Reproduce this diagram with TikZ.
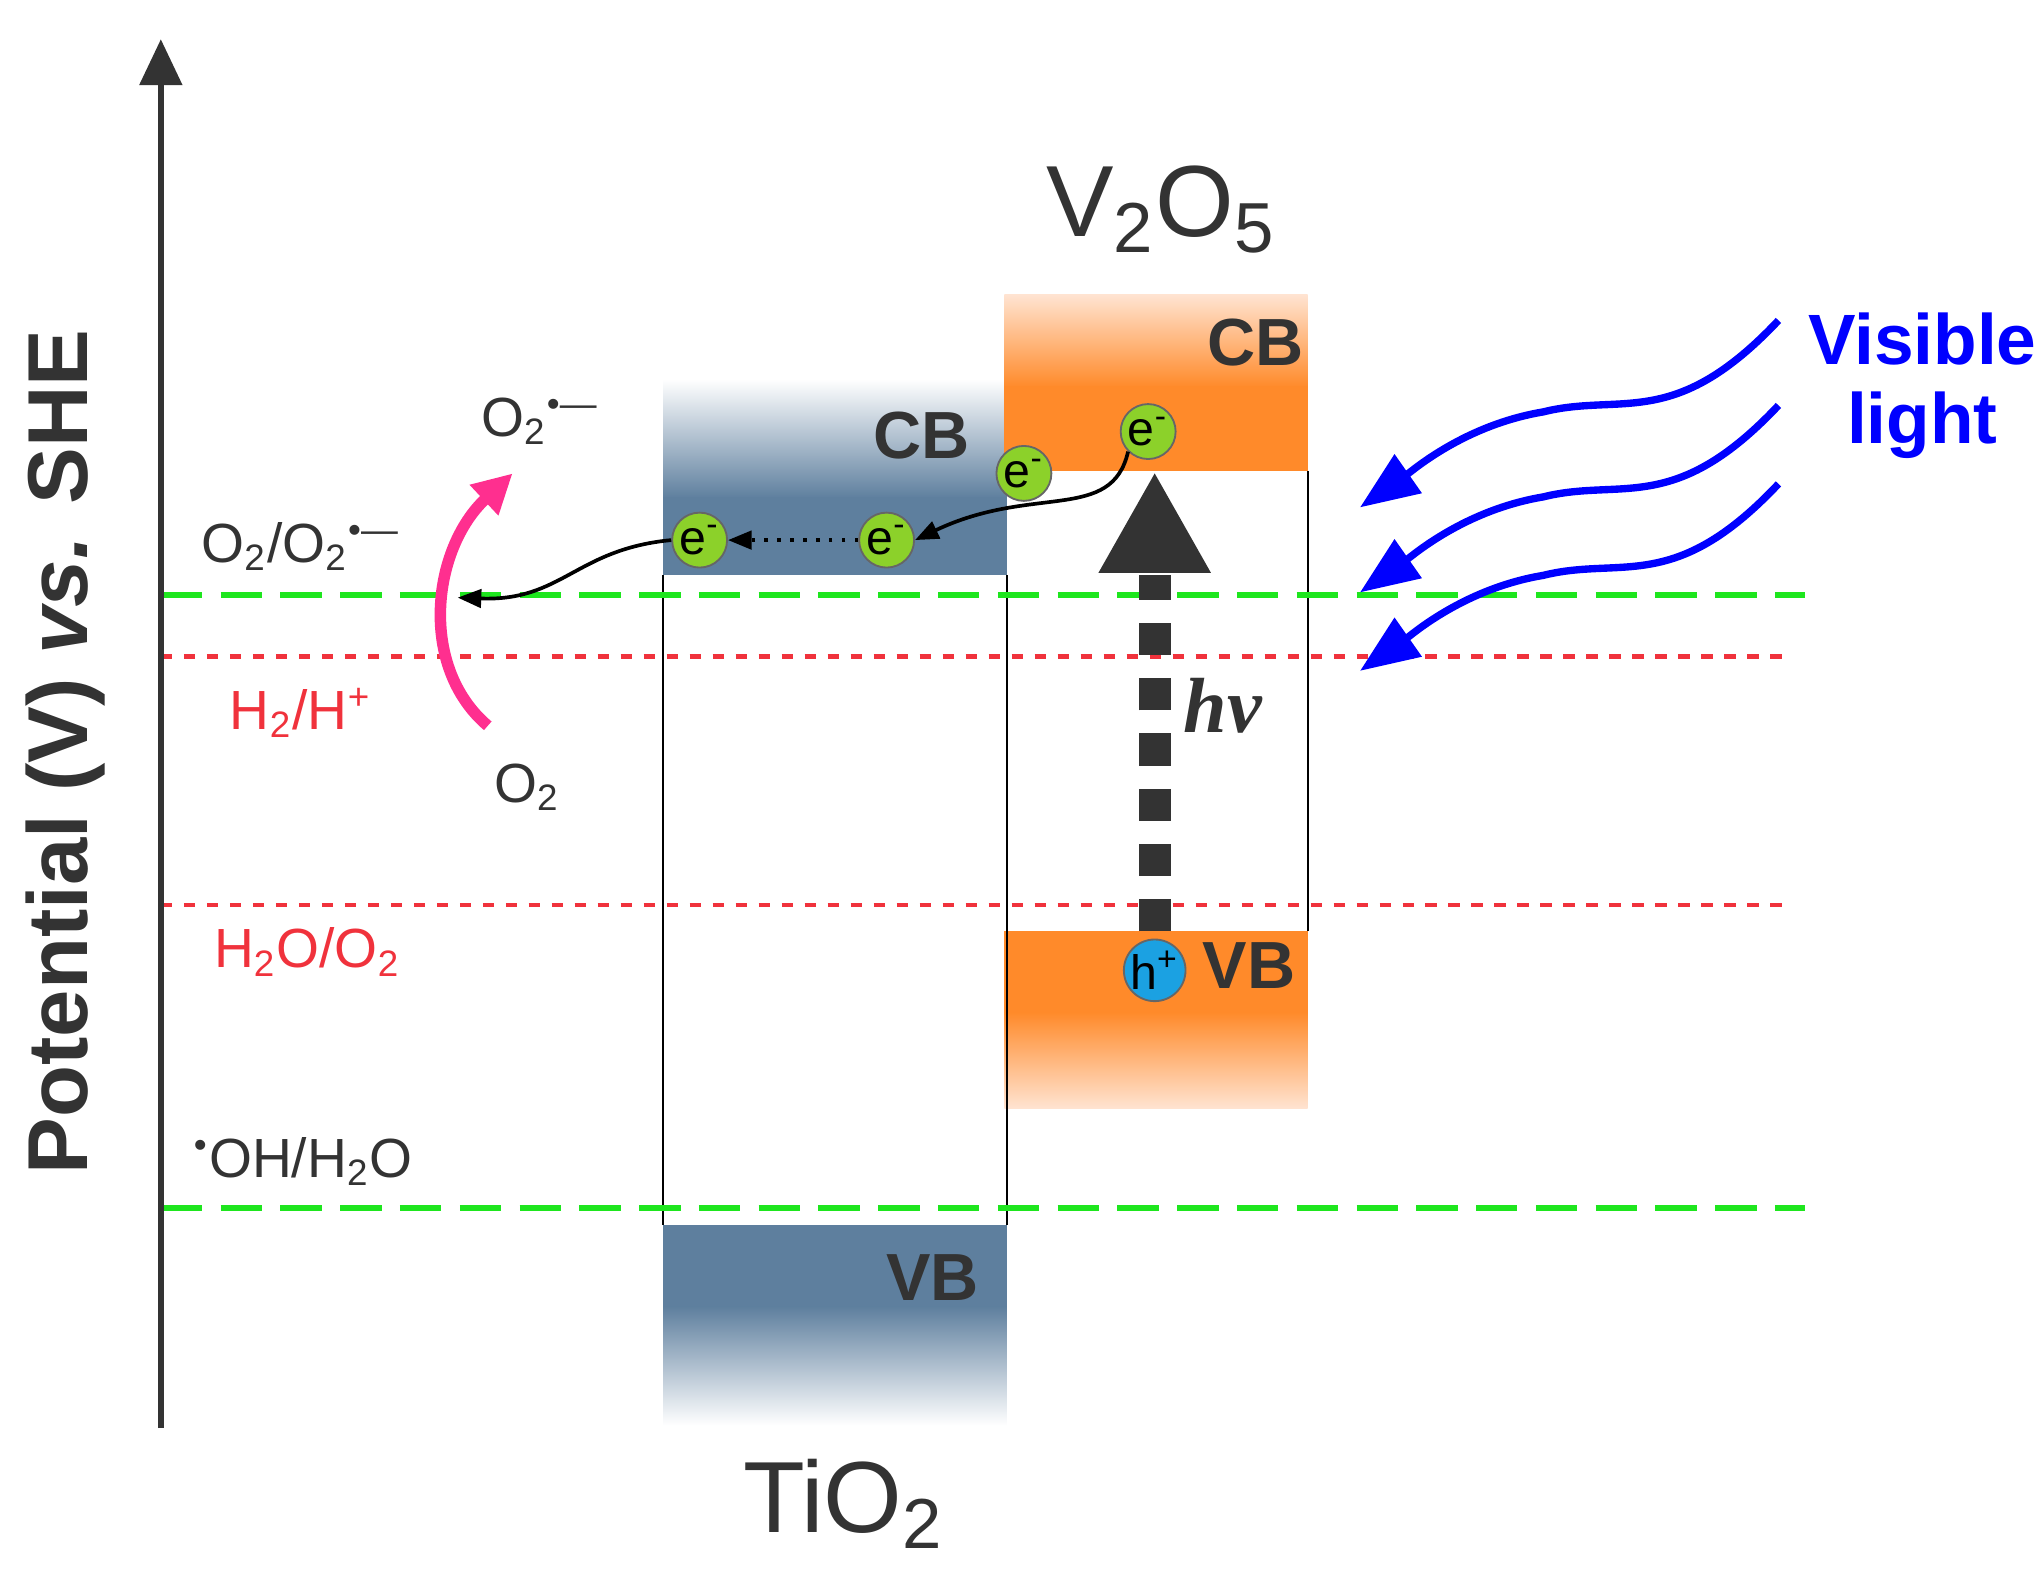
\documentclass[tikz,border=0pt]{standalone}
\usepackage{fontspec}
\setmainfont{Liberation Sans}
\usetikzlibrary{arrows.meta}
\definecolor{tblue}{HTML}{5E7F9E}
\definecolor{vor}{HTML}{FF8A2A}
\definecolor{peach}{HTML}{FFE4D2}
\definecolor{egreen}{HTML}{8CD12A}
\definecolor{hblue}{HTML}{1BA1E2}
\definecolor{dk}{HTML}{333333}
\definecolor{pinkc}{HTML}{FF2F8F}
\definecolor{redc}{RGB}{240,50,60}
\begin{document}
\begin{tikzpicture}[x=0.01cm,y=-0.01cm,
  lab/.style={font=\fontsize{12}{14}\selectfont},
  band/.style={font=\bfseries\fontsize{14.5}{17}\selectfont,text=dk},
  el/.style={circle,draw=black!60,fill=egreen,minimum size=0.42cm,inner sep=0pt,font=\fontsize{10.5}{12}\selectfont},
  green dash/.style={draw={rgb,255:red,30;green,230;blue,30},line width=1.3pt,dash pattern=on 9pt off 4pt},
  red dot/.style={draw=redc,line width=1pt,dash pattern=on 2.5pt off 2.5pt},
  wave/.style={draw=blue,line width=1.6pt,-{Triangle[length=0.45cm,width=0.35cm]}}]
\useasboundingbox (0,0) rectangle (1560,1202);
% bands
\shade[top color=white,bottom color=tblue] (507,290) rectangle (770,381);
\fill[tblue] (507,380) rectangle (770,440);
\fill[tblue] (507,937) rectangle (770,1000);
\shade[top color=tblue,bottom color=white] (507,999) rectangle (770,1090);
\shade[top color=peach,bottom color=vor] (768,225) rectangle (1000,296);
\fill[vor] (768,295) rectangle (1000,360);
\fill[vor] (768,712) rectangle (1000,775);
\shade[top color=vor,bottom color=peach] (768,774) rectangle (1000,848);
\draw[line width=0.4pt] (507,440) -- (507,937) (770,440) -- (770,937);
\draw[line width=0.4pt] (1000,360) -- (1000,712);
% lines
\draw[green dash] (123,455) -- (1380,455);
\draw[green dash] (123,924) -- (1380,924);
\draw[red dot] (123,502) -- (1365,502);
\draw[red dot] (123,692) -- (1365,692);
% axis
\coordinate (a0) at (123,1092); \coordinate (a1) at (123,30);
\draw[line width=1.2pt,dk,-{Triangle[length=0.35cm,width=0.32cm]}] (a0) -- (a1);
\node[rotate=90,font=\bfseries\fontsize{18.5}{22}\selectfont,text=dk] (yl) at (50,575) {Potential (V) \textit{vs.} SHE};
% labels
\node[band] (cbt) at (705,333) {CB};
\node[band] (cbv) at (960,262) {CB};
\node[band] (vbv) at (955,738) {VB};
\node[band] (vbt) at (713,977) {VB};
\node[font=\fontsize{22}{26}\selectfont,text=dk] (v2o5) at (888,160) {V\textsubscript{2}O\textsubscript{5}};
\node[font=\fontsize{22}{26}\selectfont,text=dk] (tio2) at (645,1150) {TiO\textsubscript{2}};
\node[lab,text=dk] (o2r) at (413,322) {O\textsubscript{2}\textsuperscript{•—}};
\node[lab,text=dk] (o2o2) at (230,418) {O\textsubscript{2}/O\textsubscript{2}\textsuperscript{•—}};
\node[lab,text=redc] (hh) at (230,545) {H\textsubscript{2}/H\textsuperscript{+}};
\node[lab,text=dk] (o2) at (403,602) {O\textsubscript{2}};
\node[lab,text=redc] (h2o) at (235,728) {H\textsubscript{2}O/O\textsubscript{2}};
\node[lab,text=dk] (oh) at (232,888) {\textsuperscript{•}OH/H\textsubscript{2}O};
\node[font=\bfseries\itshape\fontsize{17}{20}\selectfont,text=dk] (hv) at (935,540) {\fontspec{Liberation Serif}hv};
\node[font=\bfseries\fontsize{15.5}{17}\selectfont,text=blue,align=center] (vis) at (1470,295) {Visible\\light};
% electrons
\node[el] (e1) at (878,330) {e\textsuperscript{-}};
\node[el] (e2) at (783,362) {e\textsuperscript{-}};
\node[el] (e3) at (535,413) {e\textsuperscript{-}};
\node[el] (e4) at (678,413) {e\textsuperscript{-}};
\node[circle,draw=black!60,fill=hblue,minimum size=0.42cm,inner sep=0pt,font=\fontsize{10.5}{12}\selectfont] (h) at (883,742) {h\textsuperscript{+}};
% excitation arrow
\coordinate (ar0) at (883,712); \coordinate (ar1) at (883,440);
\draw[dk,line width=7pt,dash pattern=on 7pt off 5pt] (ar0) -- (ar1);
\fill[dk] (840,438) -- (883,362) -- (926,438) -- cycle;
% transfer arrows
\draw[line width=0.8pt,-{Triangle[length=0.18cm,width=0.14cm]}] (e1.south west) .. controls (850,400) and (790,370) .. (e4.east);
\draw[line width=0.8pt,dotted,-{Triangle[length=0.18cm,width=0.14cm]}] (e4.west) -- (e3.east);
\coordinate (tip) at (350,457);
\draw[line width=0.8pt,-{Triangle[length=0.18cm,width=0.14cm]}] (e3.west) .. controls (440,420) and (430,460) .. (tip);
\coordinate (p0) at (373,555); \coordinate (p1) at (392,362);
\draw[pinkc,line width=2.5pt,-{Triangle[length=0.3cm,width=0.3cm]}] (p0) .. controls (320,510) and (330,420) .. (p1);
% light
\foreach \dy/\n in {0/1,65/2,125/3}{
  \coordinate (s\n) at (1360,245+\dy); \coordinate (t\n) at (1040,388+\dy);
  \draw[wave] (s\n) .. controls (1280,330+\dy) and (1240,300+\dy) .. (1180,315+\dy) .. controls (1120,325+\dy) and (1080,360+\dy) .. (t\n);
}
\end{tikzpicture}
\end{document}
